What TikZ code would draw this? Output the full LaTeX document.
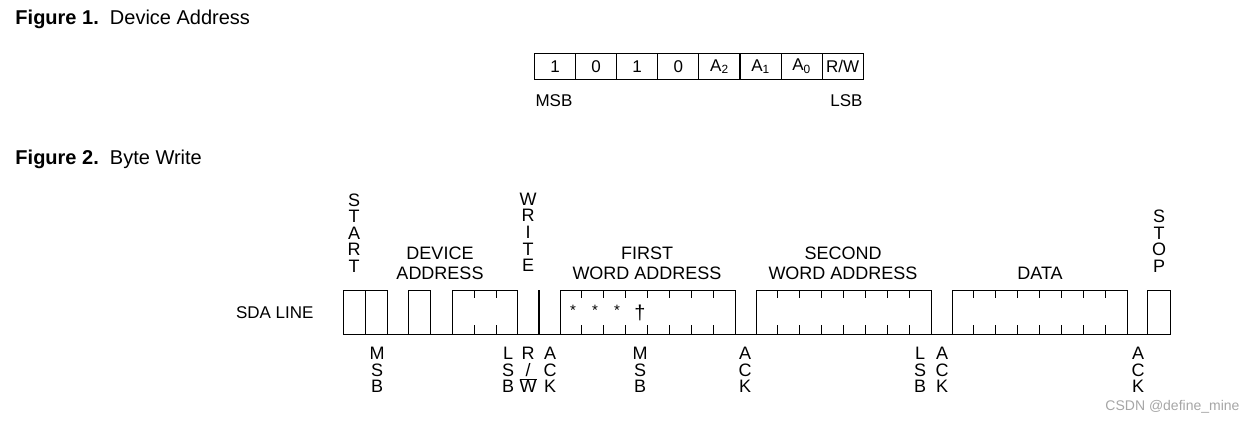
\documentclass[tikz,border=0pt]{standalone}
\usepackage{fontspec}
\setmainfont{Liberation Sans}
\begin{document}
\begin{tikzpicture}[x=1pt,y=-1pt,line width=1pt,
  lbl/.style={inner sep=0pt,align=center,font=\fontsize{18}{20}\selectfont},
  vl/.style={inner sep=0pt,align=center,font=\fontsize{18}{16.5}\selectfont},
  cell/.style={draw,minimum width=41pt,minimum height=26pt,inner sep=0pt,font=\fontsize{17}{18}\selectfont,anchor=north west}]
\useasboundingbox (0,0) rectangle (1256,422);
\node[anchor=base west,inner sep=0pt,font=\fontsize{20}{22}\selectfont] (t1) at (15,25) {\textbf{Figure 1.}\ \ Device Address};
\node[anchor=base west,inner sep=0pt,font=\fontsize{20}{22}\selectfont] (t2) at (15,165) {\textbf{Figure 2.}\ \ Byte Write};
% Figure 1
\foreach \t [count=\i from 0] in {1,0,1,0,A\textsubscript{2},A\textsubscript{1},A\textsubscript{0},R/W}
  \node[cell] (c\i) at (534+41.1*\i,53) {\t};
\node[lbl,font=\fontsize{17}{18}\selectfont,anchor=north west] (msb0) at (535,94) {MSB};
\node[lbl,font=\fontsize{17}{18}\selectfont,anchor=north east] (lsb0) at (863,94) {LSB};
% waveform
\draw (343,334) -- (1170,334);
\foreach \a/\b in {343/365,365/387,408/430,452/517,560/735,756/931,952/1127,1147/1170}
  \draw (\a,334) rectangle (\b,290);
\foreach \x in {474,496}
  {\draw (\x,290) -- (\x,298); \draw (\x,325) -- (\x,334);}
\foreach \s in {560,756,952}
  \foreach \k in {1,...,7}
   {\draw (\s+21.875*\k,290) -- (\s+21.875*\k,298); \draw (\s+21.875*\k,325) -- (\s+21.875*\k,334);}
\draw[line width=2.2pt] (539,290) -- (539,334);
\node[lbl,font=\fontsize{17}{18}\selectfont,anchor=east] (sda) at (314,313) {SDA LINE};
\foreach \x [count=\i] in {573,595,617} \node[lbl,font=\fontsize{15}{15}\selectfont] (st\i) at (\x,310) {*};
\node[lbl,font=\fontsize{20}{20}\selectfont] (dag) at (640,313) {\dag};
% top labels
\node[vl,anchor=south] (start) at (354,273) {S\\T\\A\\R\\T};
\node[vl,anchor=south] (write) at (528,272) {W\\R\\I\\T\\E};
\node[vl,anchor=south] (stop) at (1159,273) {S\\T\\O\\P};
\node[lbl,anchor=south] (dev) at (440,280) {DEVICE\\ADDRESS};
\node[lbl,anchor=south] (fwa) at (647,280) {FIRST\\WORD ADDRESS};
\node[lbl,anchor=south] (swa) at (843,280) {SECOND\\WORD ADDRESS};
\node[lbl,anchor=south] (data) at (1040,280) {DATA};
% bottom labels
\foreach \n/\x/\t in {m1/377/{M\\S\\B},l1/508/{L\\S\\B},a1/550/{A\\C\\K},m2/640/{M\\S\\B},a2/745/{A\\C\\K},l2/920/{L\\S\\B},a3/942/{A\\C\\K},a4/1138/{A\\C\\K}}
  \node[vl,anchor=north] (\n) at (\x,347) {\t};
\node[vl,anchor=north] (rw) at (528,347) {R\\/\\$\overline{\mbox{W}}$};
\node[inner sep=0pt,anchor=base east,text=gray!70,font=\fontsize{14}{14}\selectfont] (wm) at (1240,410) {CSDN @define\_mine};
\end{tikzpicture}
\end{document}
